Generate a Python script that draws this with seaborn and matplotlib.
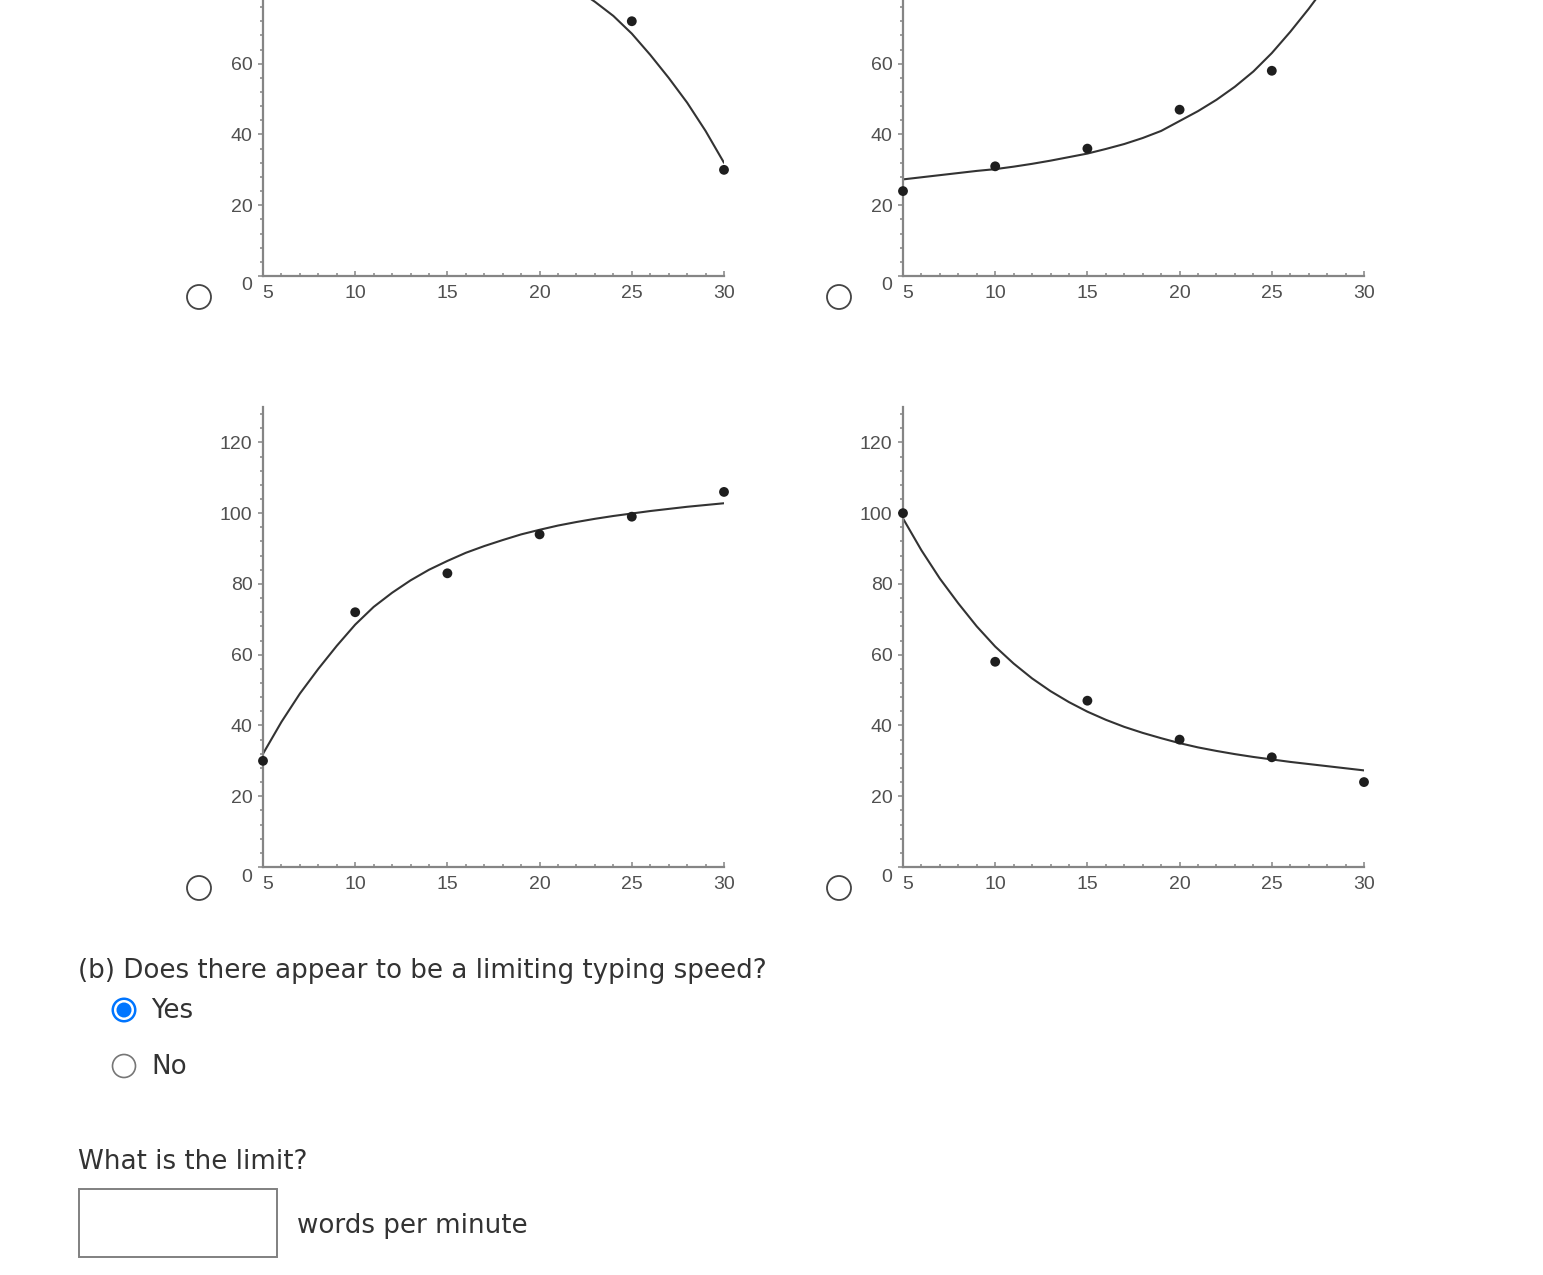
import numpy as np
import pandas as pd
import seaborn as sns
import matplotlib.pyplot as plt
from matplotlib.patches import Ellipse, Rectangle
from matplotlib.ticker import MultipleLocator
from matplotlib.transforms import ScaledTranslation

# -----------------------------
# DATA
# -----------------------------

minutes = [5, 10, 15, 20, 25, 30]

# typing speed points for the four answer choices
pts_tl = [106, 99, 94, 83, 72, 30]
pts_tr = [24, 31, 36, 47, 58, 100]
pts_bl = [30, 72, 83, 94, 99, 106]
pts_br = [100, 58, 47, 36, 31, 24]

# fitted curves, read every minute
curve_x = list(range(5, 31))
curve_tl = [102.8, 102.3, 101.8, 101.2, 100.6, 99.9, 99.2, 98.4, 97.5, 96.5,
            95.3, 94.0, 92.4, 90.7, 88.8, 86.5, 84.0, 81.0, 77.5, 73.5,
            68.5, 62.5, 56.0, 49.0, 41.0, 32.0]
curve_tr = [27.3, 27.9, 28.5, 29.1, 29.7, 30.2, 30.9, 31.7, 32.6, 33.6,
            34.6, 35.9, 37.3, 39.0, 41.0, 43.8, 46.6, 49.8, 53.5, 57.8,
            63.0, 69.0, 75.5, 82.5, 90.0, 98.5]
curve_bl = [32.0, 41.0, 49.0, 56.0, 62.5, 68.5, 73.5, 77.5, 81.0, 84.0,
            86.5, 88.8, 90.7, 92.4, 94.0, 95.3, 96.5, 97.5, 98.4, 99.2,
            99.9, 100.6, 101.2, 101.8, 102.3, 102.8]
curve_br = [98.5, 89.5, 81.5, 74.5, 68.0, 62.3, 57.5, 53.3, 49.7, 46.6,
            43.9, 41.6, 39.6, 37.9, 36.4, 35.0, 33.8, 32.8, 31.9, 31.1,
            30.4, 29.7, 29.1, 28.5, 27.9, 27.3]

x_ticks = [5, 10, 15, 20, 25, 30]
y_ticks = [0, 20, 40, 60, 80, 100, 120]

# -----------------------------
# FIGURE SETUP
# -----------------------------

sns.set_theme(style="white")
# plot tick labels in a Helvetica-like face, page text in a Verdana-like one
plt.rcParams["font.family"] = ["Liberation Sans", "DejaVu Sans"]
PAGE_FONT = "DejaVu Sans"

W, H = 1543, 1275
fig = plt.figure(figsize=(W / 100, H / 100), dpi=100)
fig.patch.set_facecolor("white")


def fx(px):
    return px / W


def fy(py):
    return 1 - py / H


AXIS_GREY = "#858585"
LABEL_GREY = "#505050"
TEXT = "#333333"
PAGE_SIZE = 18.8

# (left px, axis-origin px, points, curve, radio x, radio y)
panels = [
    (263, 276, pts_tl, curve_tl, 199, 297),
    (903, 276, pts_tr, curve_tr, 839, 297),
    (263, 867, pts_bl, curve_bl, 199, 888),
    (903, 867, pts_br, curve_br, 839, 888),
]

# -----------------------------
# PLOTS
# -----------------------------

for left, base, pts, curve, rx, ry in panels:
    ax = fig.add_axes([fx(left), fy(base), 461 / W, 460 / H])
    sns.lineplot(x=curve_x, y=curve, ax=ax, color="#333333", linewidth=1.5)
    sns.scatterplot(x=minutes, y=pts, ax=ax, color="#1e1e1e", s=50,
                    edgecolor="none", clip_on=False, zorder=3)
    ax.set_xlim(5, 30)
    ax.set_ylim(0, 130)
    ax.set_xlabel("")
    ax.set_ylabel("")

    sns.despine(ax=ax)
    for side in ["left", "bottom"]:
        ax.spines[side].set_color(AXIS_GREY)
        ax.spines[side].set_linewidth(1.6)

    ax.set_xticks(x_ticks, labels=[str(v) for v in x_ticks])
    ax.set_yticks(y_ticks, labels=[str(v) for v in y_ticks])
    ax.xaxis.set_minor_locator(MultipleLocator(1))
    ax.yaxis.set_minor_locator(MultipleLocator(4))

    ax.tick_params(axis="y", which="both", direction="out", color=AXIS_GREY,
                   labelcolor=LABEL_GREY, labelsize=14, pad=4.0, width=1.1,
                   left=True)
    ax.tick_params(axis="x", which="both", direction="in", color=AXIS_GREY,
                   labelcolor=LABEL_GREY, labelsize=14, pad=6.3, width=1.1,
                   bottom=True)
    ax.tick_params(which="major", length=3.6)
    ax.tick_params(which="minor", length=2.2)

    # the "0" sits a bit low and the "5" a bit to the right
    ylab0 = ax.get_yticklabels()[0]
    ylab0.set_transform(ylab0.get_transform() +
                        ScaledTranslation(0, -0.08, fig.dpi_scale_trans))
    xlab0 = ax.get_xticklabels()[0]
    xlab0.set_transform(xlab0.get_transform() +
                        ScaledTranslation(0.05, 0, fig.dpi_scale_trans))

    # answer radio button
    fig.add_artist(Ellipse((fx(rx), fy(ry)), 24 / W, 24 / H,
                           transform=fig.transFigure, fill=False,
                           edgecolor="#444444", linewidth=1.3))

# -----------------------------
# QUESTION (b)
# -----------------------------

fig.text(fx(78), fy(971), "(b) Does there appear to be a limiting typing speed?",
         fontsize=PAGE_SIZE, color=TEXT, va="center", ha="left",
         family=PAGE_FONT)

# selected "Yes" radio
fig.add_artist(Ellipse((fx(124), fy(1010)), 25 / W, 25 / H,
                       transform=fig.transFigure, color="#0075ff", lw=0))
fig.add_artist(Ellipse((fx(124), fy(1010)), 20 / W, 20 / H,
                       transform=fig.transFigure, color="white", lw=0))
fig.add_artist(Ellipse((fx(124), fy(1010)), 15 / W, 15 / H,
                       transform=fig.transFigure, color="#0075ff", lw=0))
fig.text(fx(151), fy(1011), "Yes", fontsize=PAGE_SIZE, color=TEXT,
         va="center", ha="left", family=PAGE_FONT)

fig.add_artist(Ellipse((fx(124), fy(1066)), 23 / W, 23 / H,
                       transform=fig.transFigure, fill=False,
                       edgecolor="#767676", linewidth=1.2))
fig.text(fx(151), fy(1067), "No", fontsize=PAGE_SIZE, color=TEXT,
         va="center", ha="left", family=PAGE_FONT)

fig.text(fx(78), fy(1162), "What is the limit?", fontsize=PAGE_SIZE,
         color=TEXT, va="center", ha="left", family=PAGE_FONT)

fig.add_artist(Rectangle((fx(79), fy(1257)), 198 / W, 68 / H,
                         transform=fig.transFigure, fill=False,
                         edgecolor="#808080", linewidth=1.4))
fig.text(fx(297), fy(1226), "words per minute", fontsize=PAGE_SIZE,
         color=TEXT, va="center", ha="left", family=PAGE_FONT)

fig.savefig("out.png", dpi=100, facecolor="white")
